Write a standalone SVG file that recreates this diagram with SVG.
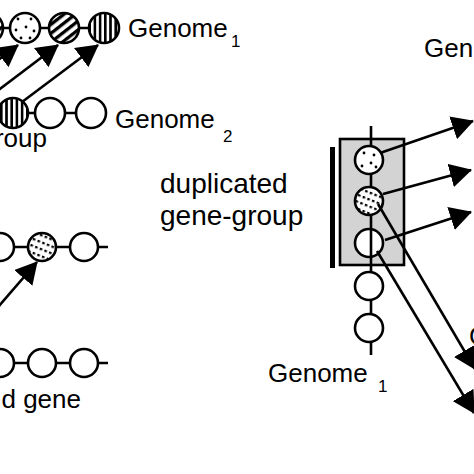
<svg xmlns="http://www.w3.org/2000/svg" width="474" height="474" viewBox="0 0 474 474">
<style>
text{font-family:"Liberation Sans",Arial,sans-serif;fill:#000}
.lbl{font-size:26px}
.lbl2{font-size:28px}
.sub{font-size:17px}
.gene{stroke:#000;stroke-width:2.6}
.bb{stroke:#000;stroke-width:2.6;fill:none}
.conn line{stroke:#000;stroke-width:2.6;marker-end:url(#ah)}
.dot{fill:#000}
</style>
<defs>
<marker id="ah" viewBox="0 0 22 24" refX="21" refY="12" markerWidth="22" markerHeight="24" markerUnits="userSpaceOnUse" orient="auto">
<path d="M0,0 L22,12 L0,24 z" fill="#000"/>
</marker>
<pattern id="vstripe" width="5.2" height="5" patternUnits="userSpaceOnUse">
<rect width="5.2" height="5" fill="#fff"/><rect width="2.6" height="5" fill="#000"/>
</pattern>
<pattern id="dstripe" width="7" height="7" patternUnits="userSpaceOnUse" patternTransform="rotate(-38)">
<rect width="7" height="7" fill="#fff"/><rect width="7" height="3.3" fill="#000"/>
</pattern>
<pattern id="dash" width="5" height="6.5" patternUnits="userSpaceOnUse" patternTransform="rotate(22)">
<rect width="5" height="6.5" fill="#fff"/><rect width="2.6" height="2.2" fill="#000"/>
</pattern>
</defs>
<rect width="474" height="474" fill="#fff"/>

<!-- top-left Genome1 row -->
<g id="g1-row">
<line class="bb" x1="-30" y1="28" x2="104" y2="28"/>
<circle class="gene" cx="-12" cy="28" r="15" fill="url(#dstripe)"/>
<circle class="gene" cx="25" cy="28" r="15" fill="#fff"/>
<g class="dot"><circle cx="18" cy="19" r="1.4"/><circle cx="31" cy="19" r="1.4"/><circle cx="16" cy="30" r="1.4"/><circle cx="26" cy="27" r="1.4"/><circle cx="34" cy="31" r="1.4"/><circle cx="21" cy="38" r="1.4"/><circle cx="30" cy="38" r="1.4"/></g>
<circle class="gene" cx="64" cy="28" r="15" fill="url(#dstripe)"/>
<circle class="gene" cx="104" cy="28" r="15" fill="url(#vstripe)"/>
</g>
<g id="g1-label">
<text class="lbl" x="128" y="37">Genome</text><text class="sub" x="231" y="47">1</text>
</g>

<!-- top-left Genome2 row -->
<g id="g2-row">
<line class="bb" x1="-20" y1="113" x2="91" y2="113"/>
<circle class="gene" cx="13" cy="113" r="15" fill="url(#vstripe)"/>
<circle class="gene" cx="50" cy="113" r="15" fill="#fff"/>
<circle class="gene" cx="91" cy="113" r="15" fill="#fff"/>
</g>
<g id="g2-label">
<text class="lbl" x="115" y="128">Genome</text><text class="sub" x="223" y="142">2</text>
</g>
<g id="roup-label"><text class="lbl" x="47" y="147" text-anchor="end">roup</text></g>

<!-- middle-left row -->
<g id="mid-row">
<line class="bb" x1="-20" y1="247" x2="108" y2="247"/>
<circle class="gene" cx="0" cy="247" r="14" fill="#fff"/>
<circle class="gene" cx="42" cy="247" r="14" fill="url(#dash)"/>
<circle class="gene" cx="84" cy="247" r="14" fill="#fff"/>
</g>

<!-- bottom-left row -->
<g id="bot-row">
<line class="bb" x1="-20" y1="363" x2="108" y2="363"/>
<circle class="gene" cx="0" cy="363" r="14" fill="#fff"/>
<circle class="gene" cx="42" cy="363" r="14" fill="#fff"/>
<circle class="gene" cx="84" cy="363" r="14" fill="#fff"/>
</g>
<g id="dgene-label"><text class="lbl" x="81" y="408" text-anchor="end">d gene</text></g>

<!-- duplicated gene-group label -->
<g id="dup-label">
<text class="lbl2" x="160" y="193">duplicated</text>
<text class="lbl2" x="160" y="225">gene-group</text>
</g>

<!-- right vertical genome -->
<g id="dup-group">
<rect x="340" y="139" width="64" height="126" fill="#d3d3d3" stroke="#000" stroke-width="2.6"/>
<rect x="330" y="147" width="5" height="121" fill="#000"/>
</g>
<g id="rg-row">
<line class="bb" x1="371" y1="126" x2="371" y2="355"/>
<circle class="gene" cx="369" cy="160" r="14" fill="#fff"/>
<g class="dot"><circle cx="364" cy="153" r="1.4"/><circle cx="374" cy="155" r="1.4"/><circle cx="371" cy="163" r="1.4"/><circle cx="362" cy="166" r="1.4"/><circle cx="376" cy="167" r="1.4"/></g>
<circle class="gene" cx="369" cy="201" r="14" fill="url(#dash)"/>
<circle class="gene" cx="369" cy="243" r="14" fill="#fff"/>
<line class="bb" x1="371" y1="229" x2="371" y2="257"/>
<circle class="gene" cx="369" cy="286" r="14" fill="#fff"/>
<circle class="gene" cx="369" cy="328" r="14" fill="#fff"/>
</g>
<g id="rg-label">
<text class="lbl" x="268" y="382">Genome</text><text class="sub" x="378" y="392">1</text>
</g>
<g id="right-labels">
<text class="lbl" x="424" y="57">Gen</text>
<text class="lbl" x="469" y="345">G</text>
</g>

<!-- connectors -->
<g id="connectors" class="conn">
<line x1="-60" y1="104" x2="18" y2="45"/>
<line x1="-20" y1="104" x2="58" y2="45"/>
<line x1="22" y1="102" x2="98" y2="45"/>
<line x1="-20" y1="328" x2="37" y2="262"/>
<line x1="380" y1="153" x2="473" y2="121"/>
<line x1="383" y1="194" x2="471" y2="170"/>
<line x1="385" y1="240" x2="471" y2="212"/>
<line x1="378" y1="204" x2="475" y2="369"/>
<line x1="377" y1="251" x2="474" y2="413"/>
</g>
</svg>
